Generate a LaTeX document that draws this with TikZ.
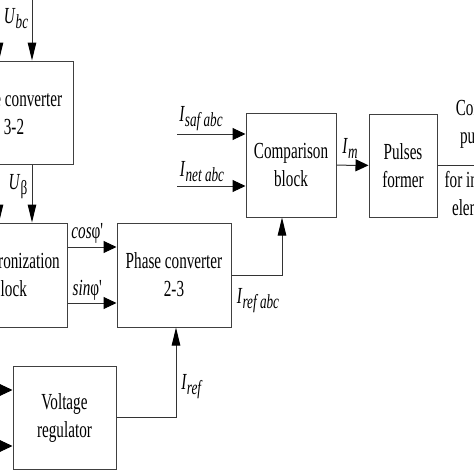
\documentclass[tikz,border=0pt]{standalone}
\usepackage{fontspec}
\setmainfont{Liberation Serif}[FakeStretch=0.66]
\usetikzlibrary{arrows.meta}

\newcommand{\sig}[2]{\textit{#1}\raisebox{-5pt}{\fontsize{20}{20}\selectfont\textit{#2}}}

\begin{document}
\begin{tikzpicture}[x=1pt,y=-1pt,
    every node/.style={font=\fontsize{23}{28}\selectfont},
    block/.style={draw=black!75, line width=1pt, rectangle, align=center, inner sep=0pt},
    lbl/.style={inner sep=0pt, align=center},
    line/.style={draw=black!80, line width=1pt},
    harr/.style={line, -{Triangle[length=13pt,width=12pt,color=black]}},
    varr/.style={line, -{Triangle[length=18pt,width=8.5pt,color=black]}}]
\useasboundingbox (0,0) rectangle (474,474);

            \node[block, minimum width=118pt, minimum height=103pt] (conv32) at (14,112.5) {Phase converter\\3-2};
            \node[block, minimum width=114pt, minimum height=104pt] (sync) at (10,275) {Synchronization\\block};
            \node[block, minimum width=114pt, minimum height=104pt] (conv23) at (174,275) {Phase converter\\2-3};
            \node[block, minimum width=90pt, minimum height=104pt] (comp) at (291,165) {Comparison\\block};
            \node[block, minimum width=68pt, minimum height=103pt] (pulses) at (403,165.5) {Pulses\\former};
            \node[block, minimum width=103pt, minimum height=103pt] (volt) at (64.5,417.5) {Voltage\\regulator};

            \coordinate (ubc) at (32,-5);
            \coordinate (uab) at (-1,-5);
            \coordinate (cosy) at (0,247);
            \coordinate (siny) at (0,303);
            \coordinate (isaf) at (177,134);
            \coordinate (inet) at (177,186);
            \coordinate (cin) at (282,0);
            \coordinate (vin) at (176,0);
            \coordinate (out) at (490,0);
            \coordinate (v1) at (-10,390);
            \coordinate (v2) at (-10,446);

            \draw[varr] (ubc) -- (ubc |- conv32.north);
            \draw[varr] (uab) -- (uab |- conv32.north);
            \draw[varr] (conv32.south -| ubc) -- (sync.north -| ubc);
            \draw[varr] (conv32.south -| uab) -- (sync.north -| uab);
            \draw[harr] (sync.east |- cosy) -- (conv23.west |- cosy);
            \draw[harr] (sync.east |- siny) -- (conv23.west |- siny);
            \draw[varr] (conv23.east) -| (comp.south -| cin);
            \draw[harr] (isaf) -- (isaf -| comp.west);
            \draw[harr] (inet) -- (inet -| comp.west);
            \draw[harr] (comp) -- (pulses);
            \draw[line] (pulses.east) -- (pulses.east -| out);
            \draw[varr] (volt.east) -| (conv23.south -| vin);
            \draw[harr] (v1) -- (v1 -| volt.west);
            \draw[harr] (v2) -- (v2 -| volt.west);

            \node[lbl] (lubc) at (16,19) {\sig{U}{bc}};
            \node[lbl] (lub) at (18,187) {\sig{U}{\upshape β}};
            \node[lbl] (lcos) at (88,233) {\textit{cos}φ\textquotesingle};
            \node[lbl] (lsin) at (88,290) {\textit{sin}φ\textquotesingle};
            \node[lbl] (lirefabc) at (258,301) {\sig{I}{ref abc}};
            \node[lbl] (lisaf) at (201,119) {\sig{I}{saf abc}};
            \node[lbl] (linet) at (202,172) {\sig{I}{net abc}};
            \node[lbl] (lim) at (350,148) {\sig{I}{m}};
            \node[lbl] (liref) at (192,387) {\sig{I}{ref}};
            \node[lbl] (ctrl) at (479,124) {Control\\pulses};
            \node[lbl] (elem) at (479,194) {for inverter\\elements};
        \end{tikzpicture}
\end{document}
